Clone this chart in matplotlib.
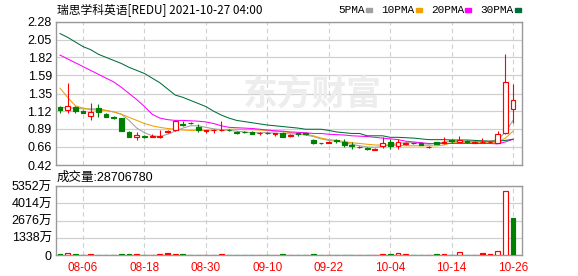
import matplotlib
matplotlib.use("Agg")
import matplotlib.pyplot as plt
from matplotlib.patches import Rectangle

plt.rcParams['font.family'] = ['Liberation Sans', 'Noto Sans CJK SC']

# ---- data ----
date_labels = ["08-06", "08-18", "08-30", "09-10", "09-22", "10-04", "10-14", "10-26"]
date_pos = [3, 11, 19, 27, 35, 43, 51, 59]

opens = [1.17, 1.14, 1.18, 1.12, 1.06, 1.16, 1.08, 1.05, 1.03, 0.85,
         0.78, 0.80, 0.79, 0.79, 0.86, 0.87, 0.95, 0.97, 0.92, 0.86,
         0.87, 0.87, 0.88, 0.85, 0.85, 0.85, 0.83, 0.84, 0.82, 0.84,
         0.81, 0.83, 0.83, 0.75, 0.71, 0.72, 0.74, 0.72, 0.68, 0.66,
         0.64, 0.63, 0.67, 0.72, 0.67, 0.69, 0.71, 0.71, 0.66, 0.72,
         0.70, 0.74, 0.72, 0.73, 0.71, 0.72, 0.72, 0.70, 0.83, 1.15]
highs = [1.19, 1.49, 1.19, 1.14, 1.23, 1.21, 1.09, 1.06, 1.03, 0.86,
         0.85, 0.81, 0.82, 0.87, 0.88, 1.00, 0.99, 0.98, 0.95, 0.88,
         0.89, 0.99, 0.89, 0.86, 0.86, 0.86, 0.85, 0.85, 0.84, 0.85,
         0.82, 0.84, 0.84, 0.76, 0.71, 0.73, 0.76, 0.76, 0.72, 0.67,
         0.65, 0.64, 0.78, 0.76, 0.76, 0.72, 0.71, 0.72, 0.67, 0.72,
         0.78, 0.76, 0.80, 0.74, 0.73, 0.77, 0.73, 0.86, 1.86, 1.47]
lows = [1.10, 1.10, 1.10, 1.09, 1.00, 1.05, 1.04, 1.02, 0.86, 0.78,
        0.74, 0.77, 0.78, 0.77, 0.84, 0.86, 0.93, 0.95, 0.85, 0.83,
        0.84, 0.86, 0.86, 0.82, 0.84, 0.82, 0.81, 0.82, 0.80, 0.78,
        0.79, 0.80, 0.81, 0.69, 0.69, 0.70, 0.71, 0.66, 0.63, 0.64,
        0.61, 0.61, 0.64, 0.63, 0.63, 0.68, 0.69, 0.68, 0.64, 0.69,
        0.69, 0.71, 0.71, 0.71, 0.70, 0.70, 0.71, 0.70, 0.82, 0.96]
closes = [1.13, 1.19, 1.12, 1.10, 1.11, 1.11, 1.05, 1.03, 0.86, 0.79,
          0.81, 0.79, 0.80, 0.80, 0.85, 0.99, 0.94, 0.96, 0.87, 0.87,
          0.88, 0.88, 0.87, 0.84, 0.845, 0.82, 0.84, 0.83, 0.83, 0.79,
          0.80, 0.82, 0.82, 0.70, 0.70, 0.71, 0.73, 0.68, 0.67, 0.65,
          0.63, 0.62, 0.70, 0.67, 0.72, 0.71, 0.70, 0.68, 0.65, 0.69,
          0.72, 0.73, 0.75, 0.72, 0.72, 0.72, 0.72, 0.82, 1.50, 1.27]
candle_colors = ("grggrggggg" "rgrrrrgggr" "rrggggrgrg"
                 "rggggrgggr" "grrgrrggrg" "rgrgrrrrrr")

ma5 = [1.17, 1.16, 1.16, 1.15, 1.15, 1.15, 1.13, 1.11, 1.08, 1.00,
       0.90, 0.84, 0.80, 0.79, 0.82, 0.86, 0.90, 0.93, 0.93, 0.91,
       0.89, 0.88, 0.87, 0.86, 0.85, 0.84, 0.84, 0.84, 0.835, 0.83,
       0.825, 0.82, 0.81, 0.79, 0.76, 0.74, 0.73, 0.71, 0.69, 0.67,
       0.655, 0.65, 0.66, 0.68, 0.70, 0.71, 0.71, 0.70, 0.69, 0.70,
       0.72, 0.725, 0.725, 0.725, 0.725, 0.725, 0.73, 0.75, 0.85, 1.00]
ma10 = [1.42, 1.30, 1.19, 1.16, 1.14, 1.135, 1.13, 1.11, 1.08, 1.04,
        1.00, 0.96, 0.93, 0.91, 0.895, 0.885, 0.875, 0.87, 0.87, 0.87,
        0.875, 0.88, 0.885, 0.885, 0.88, 0.88, 0.875, 0.87, 0.86, 0.855,
        0.84, 0.83, 0.82, 0.80, 0.77, 0.75, 0.74, 0.725, 0.71, 0.70,
        0.69, 0.68, 0.68, 0.68, 0.675, 0.67, 0.67, 0.67, 0.67, 0.67,
        0.68, 0.71, 0.71, 0.71, 0.71, 0.71, 0.71, 0.72, 0.77, 0.86]
ma20 = [1.85, 1.80, 1.75, 1.70, 1.65, 1.60, 1.55, 1.50, 1.43, 1.35,
        1.27, 1.18, 1.08, 1.03, 1.01, 1.00, 1.00, 0.995, 0.99, 0.98,
        0.96, 0.93, 0.91, 0.905, 0.90, 0.895, 0.885, 0.875, 0.865, 0.86,
        0.85, 0.845, 0.84, 0.83, 0.83, 0.82, 0.815, 0.81, 0.80, 0.795,
        0.79, 0.78, 0.77, 0.76, 0.75, 0.73, 0.72, 0.71, 0.70, 0.70,
        0.70, 0.70, 0.70, 0.70, 0.70, 0.70, 0.70, 0.695, 0.72, 0.755]
ma30 = [2.13, 2.08, 2.02, 1.96, 1.92, 1.86, 1.82, 1.78, 1.74, 1.69,
        1.65, 1.61, 1.55, 1.49, 1.41, 1.33, 1.30, 1.26, 1.22, 1.18,
        1.12, 1.07, 1.03, 1.00, 0.985, 0.97, 0.955, 0.94, 0.93, 0.92,
        0.91, 0.90, 0.885, 0.885, 0.885, 0.87, 0.85, 0.84, 0.83, 0.83,
        0.80, 0.80, 0.80, 0.78, 0.78, 0.775, 0.77, 0.76, 0.75, 0.75,
        0.75, 0.745, 0.745, 0.745, 0.74, 0.735, 0.73, 0.73, 0.74, 0.755]

# volume in units of 10,000 (万)
volumes = [40, 160, 50, 35, 40, 30, 30, 35, 60, 50,
           40, 30, 35, 45, 130, 70, 40, 30, 35, 30,
           25, 40, 30, 30, 25, 35, 25, 25, 30, 40,
           35, 30, 25, 50, 30, 25, 25, 35, 30, 25,
           30, 25, 50, 60, 180, 40, 30, 35, 30, 40,
           40, 30, 270, 35, 30, 150, 40, 290, 4960, 2870.678]
volume_colors = candle_colors[:-1] + "g"

price_ticks = [0.42, 0.66, 0.89, 1.12, 1.35, 1.59, 1.82, 2.05, 2.28]
vol_ticks = [0, 1338, 2676, 4014, 5352]
vol_tick_labels = ["0", "1338万", "2676万", "4014万", "5352万"]

RED = "#ff0000"
GREEN = "#008000"
GRID = "#d0d0d0"
FRAME = "#999999"
ma_styles = [("5PMA", ma5, "#a0a0a0"), ("10PMA", ma10, "#f0a000"),
             ("20PMA", ma20, "#ff00ff"), ("30PMA", ma30, "#006f3a")]

W, H = 578, 276
fig = plt.figure(figsize=(W / 100, H / 100), dpi=100)
ax = fig.add_axes([56 / W, 1 - 165 / H, 466 / W, 143 / H])
ax2 = fig.add_axes([56 / W, 1 - 255 / H, 466 / W, 69 / H])

xs = list(range(len(closes)))
xlim = (-0.52, 60.16)
bw = 0.62

for a in (ax, ax2):
    a.set_xlim(*xlim)
    a.set_xticks(date_pos)
    a.grid(axis="x", color=GRID, lw=0.8, ls=(0, (4, 3)))
    a.grid(axis="y", color=GRID, lw=0.9)
    a.set_axisbelow(True)
    for s in a.spines.values():
        s.set_color(FRAME)
        s.set_linewidth(1.0)
    a.tick_params(length=0, labelsize=9, labelcolor="black", pad=3)

# watermark
fig.text(312 / W, 1 - 94 / H, "东方财富", fontsize=25, color="#ededed",
         fontweight="bold", ha="center", va="center", family=["Noto Sans CJK SC"], zorder=0)

# price panel
ax.set_ylim(price_ticks[0], price_ticks[-1])
ax.set_yticks(price_ticks)
ax.set_yticklabels([f"{t:.2f}" for t in price_ticks])
ax.set_xticklabels([])
ax.patch.set_alpha(0)

for name, vals, col in ma_styles:
    ax.plot(xs, vals, color=col, lw=0.75, zorder=2)

for i in xs:
    o, h, l, c = opens[i], highs[i], lows[i], closes[i]
    col = RED if candle_colors[i] == "r" else GREEN
    ax.vlines(i, l, h, color=col, lw=0.8, zorder=3)
    hollow = c > o
    lo, hi = min(o, c), max(o, c)
    if hi - lo < 0.004:
        ax.hlines(o, i - bw / 2, i + bw / 2, color=col, lw=1.0, zorder=4)
    else:
        ax.bar(i, hi - lo, bottom=lo, width=bw, facecolor="white" if hollow else col,
               edgecolor=col, lw=0.85, zorder=4)

# volume panel
ax2.set_ylim(0, vol_ticks[-1])
ax2.set_yticks(vol_ticks)
ax2.set_yticklabels(vol_tick_labels)
ax2.set_xticklabels(date_labels, color=RED, fontsize=8.5)
ax2.tick_params(axis="x", pad=5, labelcolor=RED)
for i in xs:
    col = RED if volume_colors[i] == "r" else GREEN
    hollow = volume_colors[i] == "r" and closes[i] > opens[i]
    ax2.bar(i, volumes[i], width=bw, facecolor="white" if hollow else col,
            edgecolor=col, lw=0.85, zorder=3)

# header texts
fig.text(57 / W, 1 - 11 / H, "瑞思学科英语[REDU] 2021-10-27 04:00", fontsize=8.5,
         va="center", ha="left", family=["Noto Sans CJK SC"])
fig.text(57 / W, 1 - 178 / H, "成交量:28706780", fontsize=9, va="center", ha="left",
         family=["Liberation Sans", "Noto Sans CJK SC"])

lx = 338
for name, vals, col in ma_styles:
    fig.text(lx / W, 1 - 10 / H, name, fontsize=8, va="center", ha="left",
             family=["Liberation Mono"])
    tw = 6.1 * len(name)
    fig.add_artist(Rectangle(((lx + tw + 4) / W, 1 - 11.5 / H), 6 / W, 3 / H,
                             transform=fig.transFigure, color=col))
    lx += tw + 19

fig.savefig("out.png", dpi=100)
